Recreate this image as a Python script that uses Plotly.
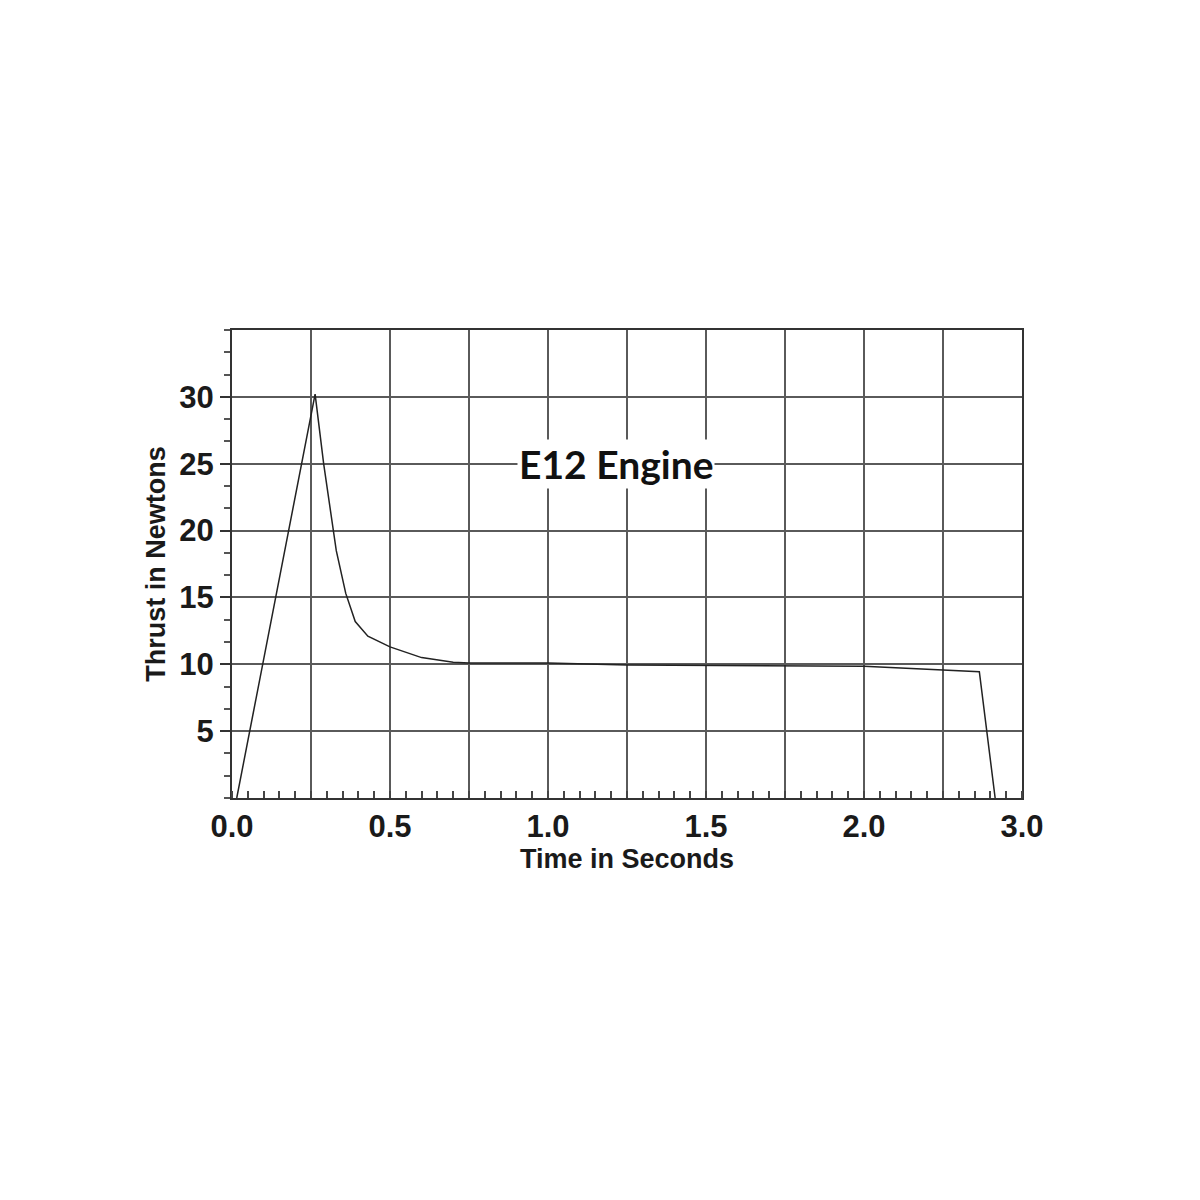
import numpy as np
import plotly.graph_objects as go

# Thrust curve of the E12 engine
time_s = [0.015, 0.263, 0.29, 0.33, 0.36, 0.39, 0.43, 0.5, 0.6, 0.7, 0.75,
          1.0, 1.25, 1.5, 2.0, 2.365, 2.415]
thrust_n = [0.0, 30.2, 25.0, 18.5, 15.3, 13.2, 12.1, 11.3, 10.5, 10.15, 10.1,
            10.1, 9.95, 9.9, 9.85, 9.45, 0.0]

x_tick_vals = [0, 0.25, 0.5, 0.75, 1.0, 1.25, 1.5, 1.75, 2.0, 2.25, 2.5]
x_tick_text = ["0.0", "", "0.5", "", "1.0", "", "1.5", "", "2.0", "", "3.0"]
y_tick_vals = [5, 10, 15, 20, 25, 30]
y_tick_text = ["5", "10", "15", "20", "25", "30"]

title_text = "E12 Engine"
x_title = "Time in Seconds"
y_title = "Thrust in Newtons"

grid_col = "#5a5a5a"
tick_font = dict(family="Liberation Sans, Arial, sans-serif", size=31,
                 color="#1a1a1a", weight="bold")
title_font = dict(family="Liberation Sans, Arial, sans-serif", size=27,
                  color="#1a1a1a", weight="bold")

fig = go.Figure()
fig.add_trace(go.Scatter(x=time_s, y=thrust_n, mode="lines",
                         line=dict(color="#222222", width=1.5),
                         showlegend=False, hoverinfo="skip"))

fig.add_annotation(x=1.215, y=25.0, xref="x", yref="y", text=title_text,
                   showarrow=False, xanchor="center", yanchor="middle",
                   bgcolor="white",
                   font=dict(family="Lato, sans-serif",
                             size=39, color="#111111", weight="bold"))

fig.update_layout(
    width=1200, height=1200,
    paper_bgcolor="white", plot_bgcolor="white",
    margin=dict(l=224, r=186, t=322, b=410, autoexpand=False),
    xaxis=dict(
        range=[0, 2.5], tickmode="array", tickvals=x_tick_vals, ticktext=x_tick_text,
        showgrid=True, gridcolor=grid_col, gridwidth=1.5,
        showline=True, linecolor="#333333", linewidth=2, mirror=True,
        ticks="", tickfont=tick_font, zeroline=False,
        minor=dict(tickmode="linear", tick0=0, dtick=0.05, ticks="inside",
                   ticklen=7, tickwidth=1.5, tickcolor="#444444", showgrid=False),
        title=dict(text=x_title, font=title_font, standoff=6),
    ),
    yaxis=dict(
        range=[0, 35], tickmode="array", tickvals=y_tick_vals, ticktext=y_tick_text,
        showgrid=True, gridcolor=grid_col, gridwidth=1.5,
        showline=True, linecolor="#333333", linewidth=2, mirror=True,
        ticks="outside", ticklen=10, tickwidth=1.5, tickcolor="#333333",
        tickfont=tick_font, zeroline=False,
        minor=dict(tickmode="linear", tick0=0, dtick=5 / 3, ticks="outside",
                   ticklen=6, tickwidth=1.5, tickcolor="#555555", showgrid=False),
        title=dict(text=y_title, font=title_font, standoff=6),
    ),
)

fig.write_html("out.html")
